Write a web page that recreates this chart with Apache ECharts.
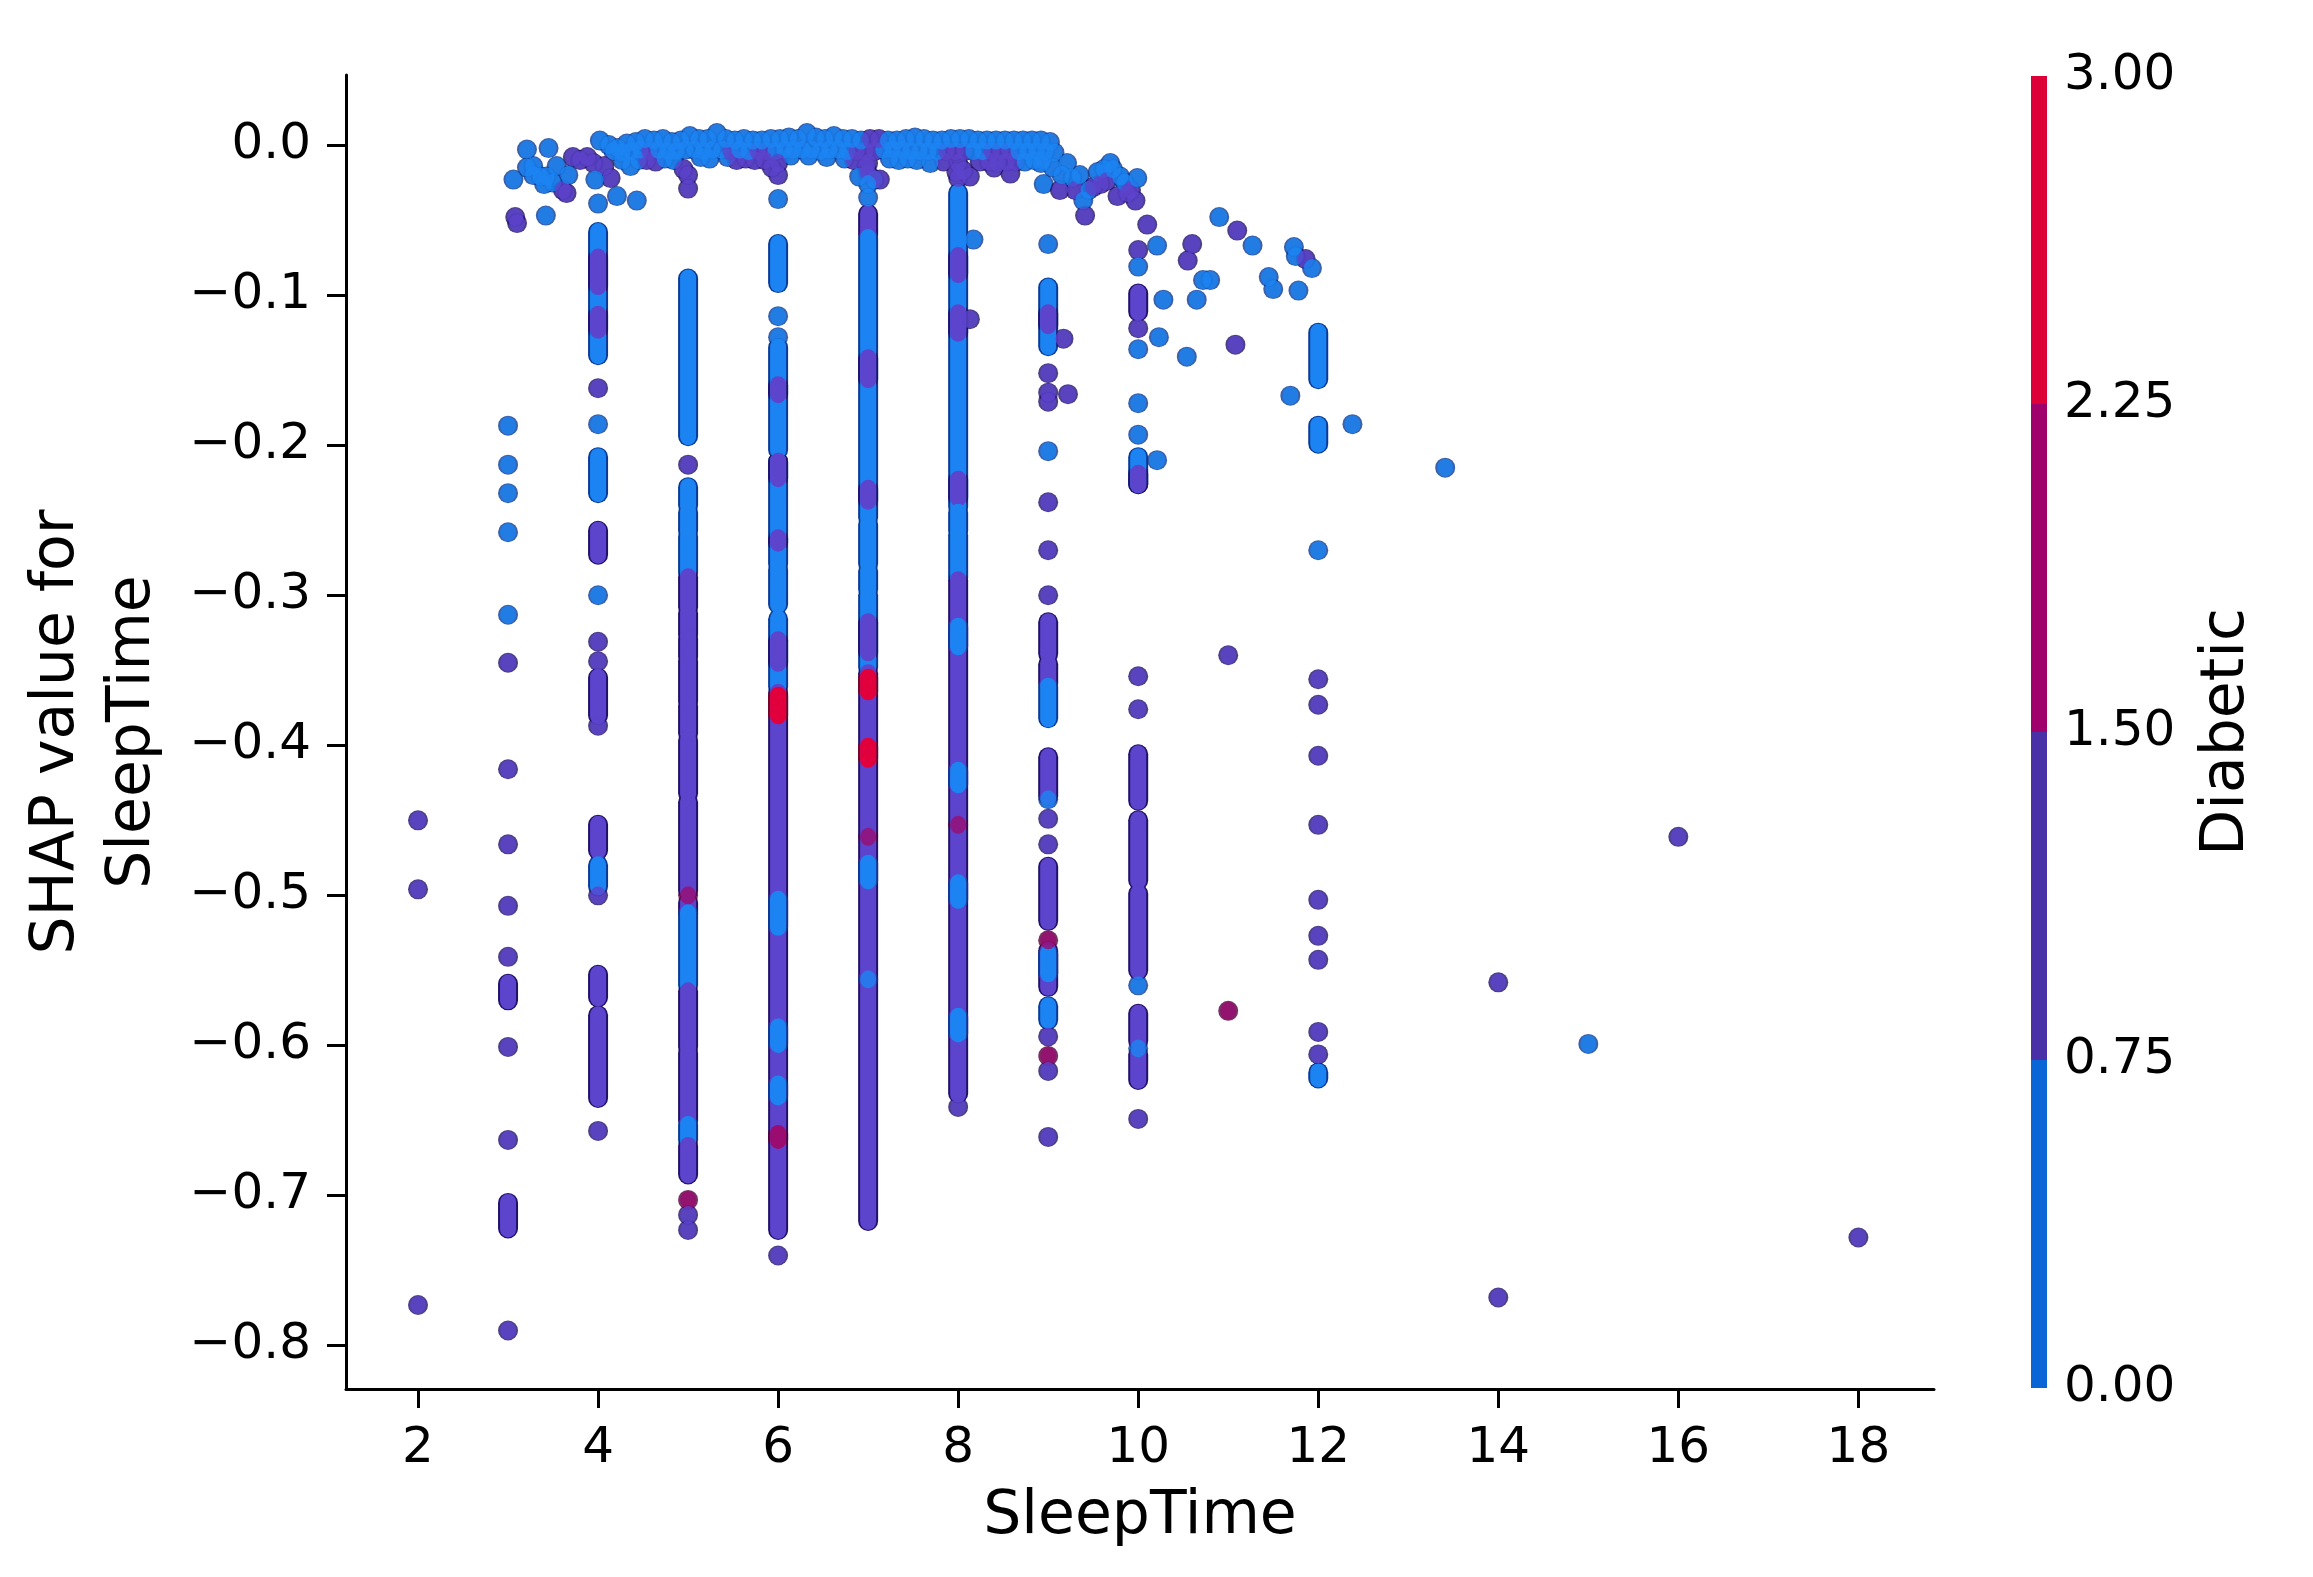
<!DOCTYPE html>
<html>
<head>
<meta charset="utf-8">
<script src="https://cdn.jsdelivr.net/npm/echarts@6/dist/echarts.min.js"></script>
<style>
html,body{margin:0;padding:0;background:#fff;}
#chart{width:2313px;height:1577px;}
</style>
</head>
<body>
<div id="chart"></div>
<script>
// ---------- tick labels ----------
const xTicks = [2, 4, 6, 8, 10, 12, 14, 16, 18];
const yTicks = [0, -0.1, -0.2, -0.3, -0.4, -0.5, -0.6, -0.7, -0.8];
const cbEdges = [0, 0.75, 1.5, 2.25, 3];

// Diabetic class: 0 = blue, 1 = purple, 2 = magenta, 3 = red
// ---------- single dots in each integer column: [shap, diabetic] ----------
const dots2 = [[-0.450,1],[-0.496,1],[-0.773,1]];
const dots3 = [[-0.187,0],[-0.213,0],[-0.232,0],[-0.258,0],[-0.313,0],[-0.345,1],[-0.416,1],[-0.466,1],[-0.507,1],[-0.541,1],[-0.601,1],[-0.663,1],[-0.790,1]];
const dots4 = [[-0.162,1],[-0.186,0],[-0.300,0],[-0.331,1],[-0.344,1],[-0.387,1],[-0.500,1],[-0.657,1]];
const dots5 = [[-0.020,1],[-0.029,1],[-0.213,1],[-0.500,2],[-0.703,2],[-0.713,1],[-0.723,1]];
const dots6 = [[-0.012,1],[-0.020,1],[-0.036,0],[-0.114,0],[-0.128,0],[-0.740,1]];
const dots7 = [[-0.012,1],[-0.019,1],[-0.026,0],[-0.035,0],[-0.461,2],[-0.556,0]];
const dots8 = [[-0.012,1],[-0.022,1],[-0.453,2],[-0.641,1]];
const dots9 = [[-0.066,0],[-0.152,1],[-0.165,1],[-0.171,1],[-0.204,0],[-0.238,1],[-0.270,1],[-0.300,1],[-0.436,0],[-0.449,1],[-0.466,1],[-0.530,2],[-0.594,1],[-0.607,2],[-0.617,1],[-0.661,1]];
const dots10 = [[-0.070,1],[-0.081,0],[-0.122,1],[-0.136,0],[-0.172,0],[-0.193,0],[-0.354,1],[-0.376,1],[-0.560,0],[-0.602,0],[-0.649,1]];
const dots11 = [[-0.340,1],[-0.577,2]];
const dots12 = [[-0.270,0],[-0.356,1],[-0.373,1],[-0.407,1],[-0.453,1],[-0.503,1],[-0.527,1],[-0.543,1],[-0.591,1],[-0.606,1]];
const dots14 = [[-0.558,1],[-0.768,1]];
const dots15 = [[-0.599,0]];
const dots16 = [[-0.461,1]];
const dots18 = [[-0.728,1]];

// ---------- continuous runs of overlapping dots: [shapTop, shapBottom, diabetic] ----------
const runs3 = [[-0.559,-0.570,1],[-0.705,-0.722,1]];
const runs4 = [[-0.058,-0.140,0],[-0.075,-0.094,1],[-0.113,-0.123,1],[-0.208,-0.232,0],[-0.257,-0.273,1],[-0.355,-0.380,1],[-0.453,-0.470,1],[-0.480,-0.494,0],[-0.553,-0.568,1],[-0.580,-0.635,1]];
const runs5 = [[-0.089,-0.194,0],[-0.228,-0.240,0],[-0.245,-0.257,0],[-0.261,-0.285,0],[-0.288,-0.308,1],[-0.312,-0.326,1],[-0.329,-0.341,1],[-0.344,-0.371,1],[-0.374,-0.392,1],[-0.397,-0.432,1],[-0.438,-0.497,1],[-0.505,-0.512,1],[-0.512,-0.560,0],[-0.564,-0.601,1],[-0.605,-0.650,1],[-0.653,-0.663,0],[-0.667,-0.686,1]];
const runs6 = [[-0.066,-0.092,0],[-0.135,-0.203,0],[-0.160,-0.166,1],[-0.211,-0.279,0],[-0.211,-0.222,1],[-0.262,-0.265,1],[-0.283,-0.306,0],[-0.316,-0.361,0],[-0.330,-0.345,1],[-0.365,-0.723,1],[-0.367,-0.380,3],[-0.503,-0.521,0],[-0.588,-0.599,0],[-0.626,-0.634,0],[-0.659,-0.663,2]];
const runs7 = [[-0.046,-0.060,1],[-0.062,-0.248,0],[-0.142,-0.156,1],[-0.229,-0.237,1],[-0.253,-0.279,0],[-0.284,-0.296,0],[-0.300,-0.348,0],[-0.318,-0.338,1],[-0.352,-0.717,1],[-0.355,-0.364,3],[-0.401,-0.409,3],[-0.479,-0.490,0]];
const runs8 = [[-0.032,-0.241,0],[-0.074,-0.086,1],[-0.112,-0.125,1],[-0.223,-0.235,1],[-0.245,-0.257,0],[-0.260,-0.288,0],[-0.290,-0.632,1],[-0.321,-0.334,0],[-0.417,-0.426,0],[-0.492,-0.503,0],[-0.581,-0.592,0]];
const runs9 = [[-0.095,-0.134,0],[-0.112,-0.120,1],[-0.318,-0.339,1],[-0.346,-0.359,1],[-0.361,-0.382,0],[-0.408,-0.434,1],[-0.481,-0.517,1],[-0.537,-0.561,1],[-0.539,-0.552,0],[-0.574,-0.583,0]];
const runs10 = [[-0.099,-0.111,1],[-0.208,-0.226,0],[-0.219,-0.226,1],[-0.406,-0.437,1],[-0.450,-0.490,1],[-0.499,-0.550,1],[-0.579,-0.597,1],[-0.606,-0.623,1]];
const runs12 = [[-0.125,-0.156,0],[-0.187,-0.199,0],[-0.618,-0.622,0]];

const dotColumns = [[2,dots2],[3,dots3],[4,dots4],[5,dots5],[6,dots6],[7,dots7],[8,dots8],[9,dots9],[10,dots10],[11,dots11],[12,dots12],[14,dots14],[15,dots15],[16,dots16],[18,dots18]];
const runColumns = [[3,runs3],[4,runs4],[5,runs5],[6,runs6],[7,runs7],[8,runs8],[9,runs9],[10,runs10],[12,runs12]];

// ---------- dense band near zero: [sleepTime, shap, diabetic] ----------
const bandTop = [[4.02,0.003,0],[4.12,0.000,0],[4.22,-0.002,0],[4.32,0.001,0],[4.42,0.002,0],[4.52,0.004,0],[4.62,0.003,0],[4.72,0.004,0],[4.82,0.002,0],[4.92,0.003,0],[5.02,0.006,0],[5.12,0.004,0],[5.22,0.004,0],[5.32,0.008,0],[5.42,0.004,0],[5.52,0.003,0],[5.62,0.004,0],[5.72,0.003,0],[5.82,0.003,0],[5.92,0.004,0],[6.02,0.004,0],[6.12,0.005,0],[6.22,0.004,0],[6.32,0.008,0],[6.42,0.005,0],[6.52,0.004,0],[6.62,0.006,0],[6.72,0.004,0],[6.82,0.004,0],[6.92,0.003,0],[7.02,0.004,1],[7.12,0.004,1],[7.22,0.003,0],[7.32,0.003,0],[7.42,0.004,0],[7.52,0.005,0],[7.62,0.004,0],[7.72,0.003,0],[7.82,0.003,0],[7.92,0.004,0],[8.02,0.004,0],[8.12,0.004,0],[8.22,0.003,0],[8.32,0.003,0],[8.42,0.003,0],[8.52,0.003,0],[8.62,0.003,0],[8.72,0.003,0],[8.82,0.003,0],[8.92,0.003,0],[9.02,0.002,0]];
const bandMid = [[4.17,-0.004,0],[4.27,-0.005,0],[4.37,-0.004,0],[4.47,-0.003,0],[4.57,-0.004,1],[4.67,-0.003,0],[4.77,-0.004,0],[4.87,-0.004,0],[4.97,-0.003,0],[5.07,-0.003,0],[5.17,-0.004,0],[5.27,-0.003,0],[5.37,-0.003,0],[5.47,-0.004,1],[5.57,-0.003,0],[5.67,-0.004,0],[5.77,-0.004,1],[5.87,-0.004,1],[5.97,-0.004,0],[6.07,-0.003,0],[6.17,-0.003,0],[6.27,-0.003,0],[6.37,-0.003,0],[6.47,-0.004,0],[6.57,-0.003,0],[6.67,-0.003,0],[6.77,-0.004,0],[6.87,-0.004,1],[6.97,-0.004,1],[7.07,-0.004,1],[7.17,-0.003,0],[7.27,-0.003,0],[7.37,-0.003,0],[7.47,-0.004,0],[7.57,-0.004,0],[7.67,-0.004,0],[7.77,-0.004,0],[7.87,-0.004,1],[7.97,-0.004,1],[8.07,-0.004,1],[8.17,-0.004,0],[8.27,-0.004,0],[8.37,-0.004,1],[8.47,-0.004,1],[8.57,-0.004,1],[8.67,-0.004,0],[8.77,-0.004,0],[8.87,-0.004,0],[8.97,-0.004,0],[9.07,-0.005,0]];
const bandLow = [[3.72,-0.008,1],[3.80,-0.010,1],[3.88,-0.008,1],[3.95,-0.012,1],[4.27,-0.010,0],[4.45,-0.010,0],[4.54,-0.010,1],[4.64,-0.011,1],[4.74,-0.009,0],[4.84,-0.010,0],[5.14,-0.008,0],[5.24,-0.009,0],[5.44,-0.008,0],[5.54,-0.010,1],[5.64,-0.009,1],[5.74,-0.010,1],[6.14,-0.007,0],[6.34,-0.007,0],[6.54,-0.008,0],[6.74,-0.009,0],[6.84,-0.010,1],[7.24,-0.009,0],[7.34,-0.010,0],[7.44,-0.009,0],[7.54,-0.010,0],[7.84,-0.011,1],[8.24,-0.011,1],[8.34,-0.011,1],[8.44,-0.012,1],[8.54,-0.011,1],[8.64,-0.011,1],[8.74,-0.011,0],[8.84,-0.010,0],[8.94,-0.010,0]];
const bandDips = [[4.07,-0.014,1],[4.14,-0.022,1],[4.95,-0.016,1],[5.85,-0.010,1],[5.93,-0.015,1],[6.90,-0.021,0],[6.98,-0.014,1],[7.07,-0.023,0],[7.13,-0.023,1],[7.69,-0.012,0],[7.98,-0.018,1],[8.06,-0.017,1],[8.13,-0.021,1],[8.40,-0.015,1],[8.58,-0.019,1],[8.92,-0.012,0]];

// ---------- jittered points off the columns: [sleepTime, shap, diabetic] ----------
const jitterLeft = [[3.06,-0.023,0],[3.08,-0.048,1],[3.10,-0.052,1],[3.21,-0.003,0],[3.21,-0.015,0],[3.28,-0.014,0],[3.28,-0.020,0],[3.36,-0.021,0],[3.40,-0.026,0],[3.43,-0.021,0],[3.45,-0.002,0],[3.42,-0.047,0],[3.50,-0.025,0],[3.54,-0.014,0],[3.61,-0.030,1],[3.65,-0.032,1],[3.67,-0.020,0],[3.97,-0.023,0],[4.00,-0.039,0],[4.21,-0.034,0],[4.43,-0.037,0],[4.36,-0.014,0],[8.17,-0.063,0],[8.13,-0.116,1],[9.17,-0.129,1],[9.22,-0.166,1]];
const jitterRight = [[8.95,-0.026,0],[9.05,-0.015,0],[9.13,-0.030,1],[9.15,-0.020,0],[9.21,-0.012,0],[9.27,-0.022,0],[9.30,-0.030,1],[9.35,-0.020,0],[9.39,-0.037,0],[9.41,-0.047,1],[9.45,-0.030,0],[9.50,-0.028,1],[9.55,-0.018,0],[9.58,-0.026,1],[9.62,-0.016,0],[9.65,-0.024,1],[9.69,-0.012,0],[9.72,-0.016,0],[9.77,-0.034,1],[9.80,-0.021,0],[9.85,-0.025,0],[9.88,-0.032,1],[9.92,-0.030,1],[9.97,-0.037,1],[9.99,-0.022,0],[10.10,-0.053,1],[10.21,-0.067,0],[10.28,-0.103,0],[10.23,-0.128,0],[10.21,-0.210,0],[10.54,-0.141,0],[10.60,-0.066,1],[10.55,-0.077,1],[10.72,-0.090,0],[10.80,-0.090,0],[10.65,-0.103,0],[10.90,-0.048,0],[11.10,-0.057,1],[11.27,-0.067,0],[11.08,-0.133,1],[11.45,-0.088,0],[11.50,-0.096,0],[11.73,-0.068,0],[11.75,-0.074,0],[11.86,-0.076,1],[11.93,-0.082,0],[11.78,-0.097,0],[11.69,-0.167,0],[12.38,-0.186,0],[13.41,-0.215,0]];

// ---------- styles ----------
const fills = ['#1c84f2', '#5c44cc', '#9a0c70', '#e2003c'];
const edges = ['#0a3a96', '#22106a', '#55003e', '#7c0020'];
const cbColors = ['#0a66d6', '#4a30a6', '#a0006c', '#dd0038'];
const FONT = 'DejaVu Sans';
const RIM = 20, CORE_W = 16, CORE_H = 18;

// ---------- build series data ----------
const dotRim = [], dotCore = [];
function addDot(x, y, c) {
  dotRim.push({ value: [x, y], itemStyle: { color: edges[c] } });
  dotCore.push({ value: [x, y], itemStyle: { color: fills[c] } });
}
[bandLow, bandMid, bandTop, bandDips, jitterLeft, jitterRight].forEach(arr => arr.forEach(p => addDot(p[0], p[1], p[2])));
dotColumns.forEach(([x, arr]) => arr.forEach(([y, c]) => addDot(x, y, c)));

const runData = [];
runColumns.forEach(([x, arr]) => arr.forEach(([y1, y2, c]) => runData.push([x, y1, y2, c])));

function runRenderer(w, h, palette) {
  return function (params, api) {
    const x = api.value(0);
    const a = api.coord([x, api.value(1)]);
    const b = api.coord([x, api.value(2)]);
    const top = Math.min(a[1], b[1]) - h / 2;
    return {
      type: 'rect',
      shape: { x: a[0] - w / 2, y: top, width: w, height: Math.abs(b[1] - a[1]) + h, r: Math.min(w, h) / 2 },
      style: { fill: palette[api.value(3)] }
    };
  };
}

const cbSeries = cbColors.map((col, i) => ({
  type: 'bar', xAxisIndex: 1, yAxisIndex: 1, stack: 'cb', barWidth: '100%',
  data: [cbEdges[i + 1] - cbEdges[i]], itemStyle: { color: col }, silent: true
}));

const chart = echarts.init(document.getElementById('chart'), null, { renderer: 'canvas' });
chart.setOption({
  animation: false,
  backgroundColor: '#ffffff',
  textStyle: { fontFamily: FONT },
  grid: [
    { left: 346, top: 75, width: 1588, height: 1314 },
    { left: 2031, top: 76, width: 16, height: 1312 }
  ],
  xAxis: [{
    type: 'value', gridIndex: 0, min: 1.2, max: 18.84,
    axisLine: { show: true, onZero: false, lineStyle: { color: '#000', width: 3 } },
    axisTick: { show: true, length: 19, lineStyle: { color: '#000', width: 3 }, customValues: xTicks },
    axisLabel: { customValues: xTicks, fontSize: 50, margin: 35, color: '#000', fontFamily: FONT },
    splitLine: { show: false },
    name: 'SleepTime', nameLocation: 'middle', nameGap: 98,
    nameTextStyle: { fontSize: 60, color: '#000', fontFamily: FONT }
  }, {
    type: 'category', gridIndex: 1, data: ['Diabetic'], show: false
  }],
  yAxis: [{
    type: 'value', gridIndex: 0, min: -0.829, max: 0.0467,
    axisLine: { show: true, onZero: false, lineStyle: { color: '#000', width: 3 } },
    axisTick: { show: true, length: 19, lineStyle: { color: '#000', width: 3 }, customValues: yTicks },
    axisLabel: {
      customValues: yTicks, fontSize: 50, margin: 35, color: '#000', fontFamily: FONT,
      formatter: v => (Math.abs(v) < 1e-9 ? '0.0' : (v < 0 ? '\u2212' : '') + Math.abs(v).toFixed(1))
    },
    splitLine: { show: false },
    name: 'SHAP value for\nSleepTime', nameLocation: 'middle', nameRotate: 90, nameGap: 175,
    nameTextStyle: { fontSize: 60, lineHeight: 76, color: '#000', fontFamily: FONT, align: 'center' }
  }, {
    type: 'value', gridIndex: 1, min: 0, max: 3, position: 'right',
    axisLine: { show: false }, axisTick: { show: false }, splitLine: { show: false },
    axisLabel: { customValues: cbEdges, fontSize: 50, margin: 17, color: '#000', fontFamily: FONT,
      formatter: v => v.toFixed(2) },
    name: 'Diabetic', nameLocation: 'middle', nameRotate: 90, nameGap: 150,
    nameTextStyle: { fontSize: 60, color: '#000', fontFamily: FONT }
  }],
  series: [{
    type: 'custom', xAxisIndex: 0, yAxisIndex: 0, silent: true, z: 2,
    renderItem: runRenderer(RIM, RIM, edges), encode: { x: 0, y: [1, 2] }, data: runData
  }, {
    type: 'scatter', xAxisIndex: 0, yAxisIndex: 0, symbol: 'circle', symbolSize: RIM,
    silent: true, z: 2, data: dotRim
  }, {
    type: 'custom', xAxisIndex: 0, yAxisIndex: 0, silent: true, z: 3,
    renderItem: runRenderer(CORE_W, CORE_H, fills), encode: { x: 0, y: [1, 2] }, data: runData
  }, {
    type: 'scatter', xAxisIndex: 0, yAxisIndex: 0, symbol: 'circle', symbolSize: [CORE_W, CORE_H],
    silent: true, z: 4, data: dotCore
  }].concat(cbSeries)
});
</script>
</body>
</html>
